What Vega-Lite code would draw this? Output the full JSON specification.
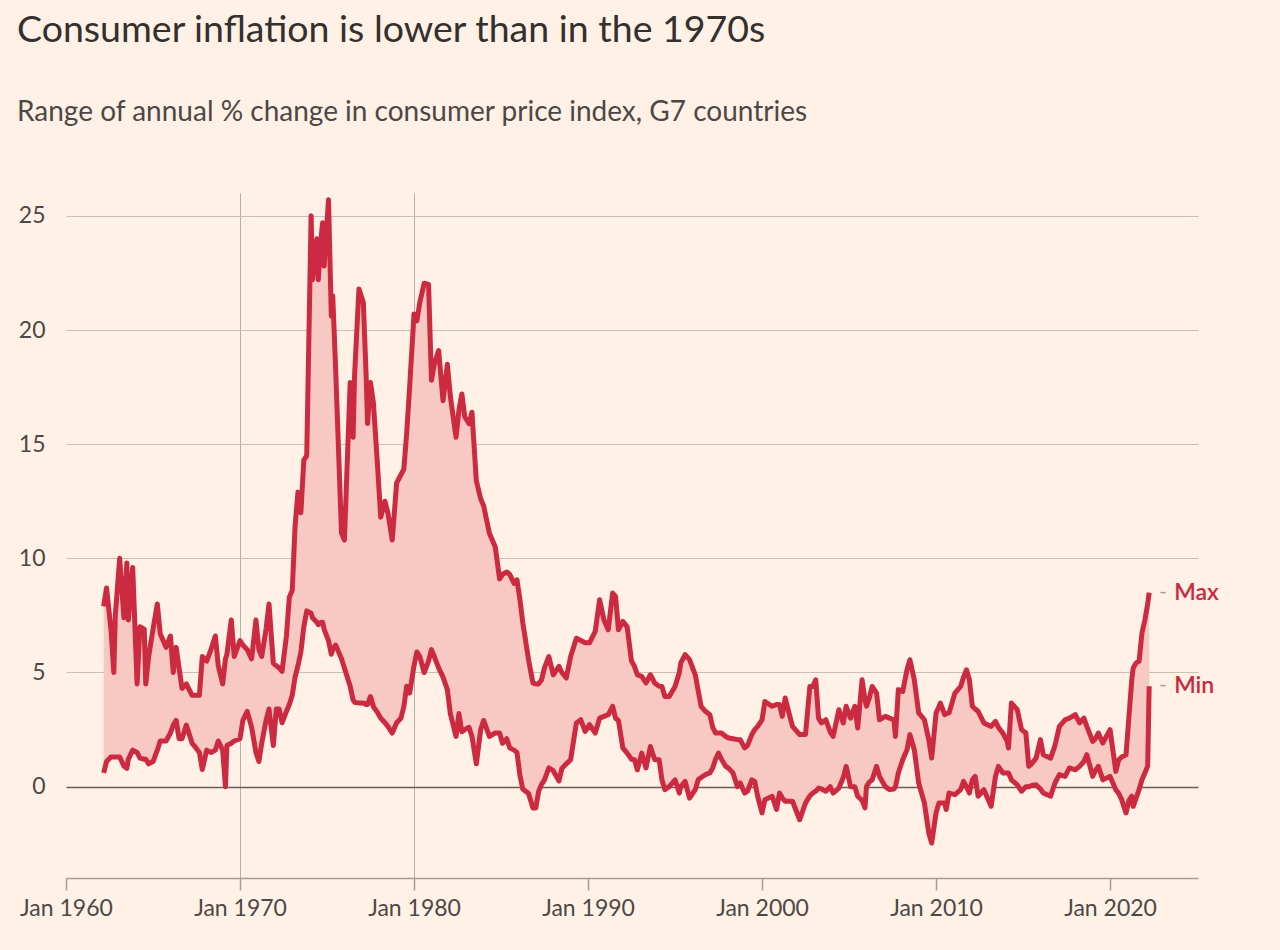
{
  "$schema": "https://vega.github.io/schema/vega-lite/v6.json",
  "width": 1132,
  "height": 685,
  "autosize": {"type": "none"},
  "padding": {"left": 66, "top": 193, "right": 82, "bottom": 72},
  "background": "#fff1e5",
  "title": {
    "text": "Consumer inflation is lower than in the 1970s",
    "subtitle": "Range of annual % change in consumer price index, G7 countries",
    "anchor": "start",
    "frame": "group",
    "dx": -49,
    "offset": 66,
    "font": "Lato",
    "fontSize": 37.5,
    "fontWeight": "normal",
    "color": "#33302e",
    "subtitleFont": "Lato",
    "subtitleFontSize": 28,
    "subtitleColor": "#4d4845",
    "subtitlePadding": 50
  },
  "config": {
    "view": {"stroke": null},
    "font": "Lato"
  },
  "data": {
    "values": [
      {"date": "1962-03-01", "Max": 7.9, "Min": 0.6},
      {"date": "1962-05-01", "Max": 8.7, "Min": 1.1},
      {"date": "1962-08-01", "Max": 6.9, "Min": 1.3},
      {"date": "1962-10-01", "Max": 5.0, "Min": 1.3},
      {"date": "1962-11-01", "Max": 7.5, "Min": 1.3},
      {"date": "1963-02-01", "Max": 10.0, "Min": 1.3},
      {"date": "1963-05-01", "Max": 7.4, "Min": 0.9},
      {"date": "1963-07-01", "Max": 9.8, "Min": 0.8},
      {"date": "1963-08-01", "Max": 7.3, "Min": 1.2},
      {"date": "1963-11-01", "Max": 9.6, "Min": 1.6},
      {"date": "1964-02-01", "Max": 4.5, "Min": 1.5},
      {"date": "1964-04-01", "Max": 7.0, "Min": 1.25},
      {"date": "1964-07-01", "Max": 6.9, "Min": 1.2},
      {"date": "1964-08-01", "Max": 4.5, "Min": 1.2},
      {"date": "1964-10-01", "Max": 5.7, "Min": 1.0},
      {"date": "1965-01-01", "Max": 6.9, "Min": 1.1},
      {"date": "1965-04-01", "Max": 8.0, "Min": 1.6},
      {"date": "1965-06-01", "Max": 6.7, "Min": 2.0},
      {"date": "1965-10-01", "Max": 6.1, "Min": 2.0},
      {"date": "1966-01-01", "Max": 6.6, "Min": 2.35},
      {"date": "1966-03-01", "Max": 5.0, "Min": 2.7},
      {"date": "1966-05-01", "Max": 6.1, "Min": 2.9},
      {"date": "1966-07-01", "Max": 5.2, "Min": 2.1},
      {"date": "1966-09-01", "Max": 4.3, "Min": 2.1},
      {"date": "1966-12-01", "Max": 4.5, "Min": 2.7},
      {"date": "1967-04-01", "Max": 4.0, "Min": 1.9},
      {"date": "1967-06-01", "Max": 4.0, "Min": 1.75},
      {"date": "1967-09-01", "Max": 4.0, "Min": 1.5},
      {"date": "1967-11-01", "Max": 5.7, "Min": 0.75},
      {"date": "1968-02-01", "Max": 5.5, "Min": 1.6},
      {"date": "1968-05-01", "Max": 6.0, "Min": 1.5},
      {"date": "1968-08-01", "Max": 6.6, "Min": 1.6},
      {"date": "1968-10-01", "Max": 5.3, "Min": 2.0},
      {"date": "1969-01-01", "Max": 4.5, "Min": 1.6},
      {"date": "1969-03-01", "Max": 5.6, "Min": 0.0},
      {"date": "1969-04-01", "Max": 5.8, "Min": 1.8},
      {"date": "1969-07-01", "Max": 7.3, "Min": 1.9},
      {"date": "1969-09-01", "Max": 5.7, "Min": 2.0},
      {"date": "1970-01-01", "Max": 6.4, "Min": 2.1},
      {"date": "1970-03-01", "Max": 6.2, "Min": 2.9},
      {"date": "1970-06-01", "Max": 6.0, "Min": 3.3},
      {"date": "1970-09-01", "Max": 5.6, "Min": 2.6},
      {"date": "1970-12-01", "Max": 7.3, "Min": 1.5},
      {"date": "1971-02-01", "Max": 6.0, "Min": 1.1},
      {"date": "1971-04-01", "Max": 5.7, "Min": 1.9},
      {"date": "1971-07-01", "Max": 6.9, "Min": 2.9},
      {"date": "1971-09-01", "Max": 8.0, "Min": 3.4},
      {"date": "1971-12-01", "Max": 5.4, "Min": 1.8},
      {"date": "1972-02-01", "Max": 5.3, "Min": 3.4},
      {"date": "1972-04-01", "Max": 5.2, "Min": 3.4},
      {"date": "1972-06-01", "Max": 5.05, "Min": 2.8},
      {"date": "1972-09-01", "Max": 6.6, "Min": 3.3},
      {"date": "1972-11-01", "Max": 8.3, "Min": 3.6},
      {"date": "1973-01-01", "Max": 8.6, "Min": 4.0},
      {"date": "1973-03-01", "Max": 11.4, "Min": 4.8},
      {"date": "1973-05-01", "Max": 12.9, "Min": 5.3},
      {"date": "1973-07-01", "Max": 12.0, "Min": 5.9},
      {"date": "1973-09-01", "Max": 14.3, "Min": 7.0},
      {"date": "1973-11-01", "Max": 14.5, "Min": 7.7},
      {"date": "1974-02-01", "Max": 25.0, "Min": 7.6},
      {"date": "1974-03-01", "Max": 22.2, "Min": 7.4},
      {"date": "1974-06-01", "Max": 24.0, "Min": 7.2},
      {"date": "1974-07-01", "Max": 22.2, "Min": 7.1},
      {"date": "1974-09-01", "Max": 24.1, "Min": 7.2},
      {"date": "1974-10-01", "Max": 24.7, "Min": 7.2},
      {"date": "1974-11-01", "Max": 22.8, "Min": 6.9},
      {"date": "1975-02-01", "Max": 25.7, "Min": 6.4},
      {"date": "1975-04-01", "Max": 20.6, "Min": 5.8},
      {"date": "1975-05-01", "Max": 21.5, "Min": 6.0},
      {"date": "1975-07-01", "Max": 18.3, "Min": 6.2},
      {"date": "1975-11-01", "Max": 11.1, "Min": 5.6},
      {"date": "1976-01-01", "Max": 10.8, "Min": 5.2},
      {"date": "1976-05-01", "Max": 17.7, "Min": 4.4},
      {"date": "1976-07-01", "Max": 15.3, "Min": 3.8},
      {"date": "1976-08-01", "Max": 18.0, "Min": 3.7},
      {"date": "1976-11-01", "Max": 21.8, "Min": 3.66},
      {"date": "1977-02-01", "Max": 21.2, "Min": 3.66},
      {"date": "1977-04-01", "Max": 18.0, "Min": 3.6},
      {"date": "1977-05-01", "Max": 15.9, "Min": 3.6},
      {"date": "1977-07-01", "Max": 17.7, "Min": 3.95},
      {"date": "1977-09-01", "Max": 16.8, "Min": 3.5},
      {"date": "1977-12-01", "Max": 13.9, "Min": 3.23},
      {"date": "1978-02-01", "Max": 11.8, "Min": 3.0},
      {"date": "1978-05-01", "Max": 12.5, "Min": 2.8},
      {"date": "1978-07-01", "Max": 12.0, "Min": 2.64},
      {"date": "1978-10-01", "Max": 10.8, "Min": 2.35},
      {"date": "1979-01-01", "Max": 13.3, "Min": 2.8},
      {"date": "1979-04-01", "Max": 13.66, "Min": 3.0},
      {"date": "1979-06-01", "Max": 13.9, "Min": 3.5},
      {"date": "1979-08-01", "Max": 15.5, "Min": 4.4},
      {"date": "1979-10-01", "Max": 17.5, "Min": 4.1},
      {"date": "1980-01-01", "Max": 20.7, "Min": 5.3},
      {"date": "1980-03-01", "Max": 20.4, "Min": 5.9},
      {"date": "1980-05-01", "Max": 21.2, "Min": 5.7},
      {"date": "1980-08-01", "Max": 22.05, "Min": 5.0},
      {"date": "1980-11-01", "Max": 22.0, "Min": 5.5},
      {"date": "1981-01-01", "Max": 17.8, "Min": 6.0},
      {"date": "1981-03-01", "Max": 18.5, "Min": 5.7},
      {"date": "1981-06-01", "Max": 19.1, "Min": 5.2},
      {"date": "1981-09-01", "Max": 16.9, "Min": 4.8},
      {"date": "1981-12-01", "Max": 18.5, "Min": 4.25},
      {"date": "1982-02-01", "Max": 17.1, "Min": 3.2},
      {"date": "1982-06-01", "Max": 15.3, "Min": 2.2},
      {"date": "1982-08-01", "Max": 16.5, "Min": 3.2},
      {"date": "1982-10-01", "Max": 17.2, "Min": 2.4},
      {"date": "1982-12-01", "Max": 16.2, "Min": 2.5},
      {"date": "1983-03-01", "Max": 15.9, "Min": 2.6},
      {"date": "1983-05-01", "Max": 16.4, "Min": 2.2},
      {"date": "1983-08-01", "Max": 13.4, "Min": 1.0},
      {"date": "1983-11-01", "Max": 12.6, "Min": 2.5},
      {"date": "1984-01-01", "Max": 12.3, "Min": 2.9},
      {"date": "1984-05-01", "Max": 11.1, "Min": 2.2},
      {"date": "1984-09-01", "Max": 10.5, "Min": 2.35},
      {"date": "1984-12-01", "Max": 9.1, "Min": 2.35},
      {"date": "1985-02-01", "Max": 9.3, "Min": 1.9},
      {"date": "1985-05-01", "Max": 9.4, "Min": 2.1},
      {"date": "1985-07-01", "Max": 9.3, "Min": 1.7},
      {"date": "1985-10-01", "Max": 8.9, "Min": 1.6},
      {"date": "1985-12-01", "Max": 9.06, "Min": 1.5},
      {"date": "1986-02-01", "Max": 8.2, "Min": 0.5},
      {"date": "1986-04-01", "Max": 7.2, "Min": -0.1},
      {"date": "1986-08-01", "Max": 5.56, "Min": -0.3},
      {"date": "1986-11-01", "Max": 4.54, "Min": -0.93},
      {"date": "1987-01-01", "Max": 4.5, "Min": -0.93},
      {"date": "1987-03-01", "Max": 4.5, "Min": -0.2},
      {"date": "1987-05-01", "Max": 4.68, "Min": 0.1},
      {"date": "1987-07-01", "Max": 5.2, "Min": 0.3},
      {"date": "1987-10-01", "Max": 5.7, "Min": 0.82},
      {"date": "1988-01-01", "Max": 4.9, "Min": 0.7},
      {"date": "1988-05-01", "Max": 5.27, "Min": 0.25},
      {"date": "1988-07-01", "Max": 5.0, "Min": 0.8},
      {"date": "1988-10-01", "Max": 4.76, "Min": 1.0},
      {"date": "1989-01-01", "Max": 5.7, "Min": 1.18},
      {"date": "1989-05-01", "Max": 6.5, "Min": 2.79},
      {"date": "1989-08-01", "Max": 6.4, "Min": 2.93},
      {"date": "1989-11-01", "Max": 6.3, "Min": 2.42},
      {"date": "1990-02-01", "Max": 6.3, "Min": 2.72},
      {"date": "1990-06-01", "Max": 6.8, "Min": 2.35},
      {"date": "1990-09-01", "Max": 8.19, "Min": 3.0},
      {"date": "1990-12-01", "Max": 7.3, "Min": 3.08},
      {"date": "1991-03-01", "Max": 6.87, "Min": 3.15},
      {"date": "1991-06-01", "Max": 8.48, "Min": 3.52},
      {"date": "1991-08-01", "Max": 8.33, "Min": 3.0},
      {"date": "1991-10-01", "Max": 6.87, "Min": 2.9},
      {"date": "1992-01-01", "Max": 7.24, "Min": 1.7},
      {"date": "1992-04-01", "Max": 7.0, "Min": 1.47},
      {"date": "1992-07-01", "Max": 5.5, "Min": 1.2},
      {"date": "1992-09-01", "Max": 5.27, "Min": 1.18},
      {"date": "1992-11-01", "Max": 4.9, "Min": 0.74},
      {"date": "1993-02-01", "Max": 4.83, "Min": 1.47},
      {"date": "1993-05-01", "Max": 4.54, "Min": 0.82},
      {"date": "1993-08-01", "Max": 4.9, "Min": 1.76},
      {"date": "1993-11-01", "Max": 4.54, "Min": 1.18},
      {"date": "1994-02-01", "Max": 4.4, "Min": 1.18},
      {"date": "1994-04-01", "Max": 4.39, "Min": 0.3},
      {"date": "1994-06-01", "Max": 3.95, "Min": -0.13},
      {"date": "1994-09-01", "Max": 3.95, "Min": 0.0},
      {"date": "1995-01-01", "Max": 4.39, "Min": 0.3},
      {"date": "1995-04-01", "Max": 5.0, "Min": -0.28},
      {"date": "1995-05-01", "Max": 5.42, "Min": 0.0},
      {"date": "1995-08-01", "Max": 5.78, "Min": 0.23},
      {"date": "1995-11-01", "Max": 5.56, "Min": -0.5},
      {"date": "1996-03-01", "Max": 4.9, "Min": -0.13},
      {"date": "1996-05-01", "Max": 4.2, "Min": 0.3},
      {"date": "1996-07-01", "Max": 3.52, "Min": 0.4},
      {"date": "1996-10-01", "Max": 3.3, "Min": 0.53},
      {"date": "1997-01-01", "Max": 3.15, "Min": 0.6},
      {"date": "1997-03-01", "Max": 2.6, "Min": 0.82},
      {"date": "1997-05-01", "Max": 2.35, "Min": 1.2},
      {"date": "1997-07-01", "Max": 2.35, "Min": 1.47},
      {"date": "1997-09-01", "Max": 2.35, "Min": 1.2},
      {"date": "1997-12-01", "Max": 2.2, "Min": 0.89},
      {"date": "1998-02-01", "Max": 2.13, "Min": 0.8},
      {"date": "1998-05-01", "Max": 2.1, "Min": 0.6},
      {"date": "1998-08-01", "Max": 2.06, "Min": 0.0},
      {"date": "1998-10-01", "Max": 2.06, "Min": 0.16},
      {"date": "1999-01-01", "Max": 1.7, "Min": -0.28},
      {"date": "1999-03-01", "Max": 1.8, "Min": -0.2},
      {"date": "1999-06-01", "Max": 2.28, "Min": 0.3},
      {"date": "1999-08-01", "Max": 2.5, "Min": 0.23},
      {"date": "1999-10-01", "Max": 2.64, "Min": -0.42},
      {"date": "2000-01-01", "Max": 2.93, "Min": -1.15},
      {"date": "2000-03-01", "Max": 3.73, "Min": -0.57},
      {"date": "2000-08-01", "Max": 3.52, "Min": -0.42},
      {"date": "2000-11-01", "Max": 3.6, "Min": -1.0},
      {"date": "2001-01-01", "Max": 3.6, "Min": -0.28},
      {"date": "2001-03-01", "Max": 3.08, "Min": -0.5},
      {"date": "2001-05-01", "Max": 3.88, "Min": -0.64},
      {"date": "2001-10-01", "Max": 2.64, "Min": -0.64},
      {"date": "2002-03-01", "Max": 2.28, "Min": -1.45},
      {"date": "2002-07-01", "Max": 2.28, "Min": -0.72},
      {"date": "2002-10-01", "Max": 4.39, "Min": -0.4},
      {"date": "2002-12-01", "Max": 4.39, "Min": -0.28},
      {"date": "2003-02-01", "Max": 4.68, "Min": -0.2},
      {"date": "2003-04-01", "Max": 3.0, "Min": -0.06},
      {"date": "2003-06-01", "Max": 2.79, "Min": -0.1},
      {"date": "2003-09-01", "Max": 2.93, "Min": -0.2},
      {"date": "2003-12-01", "Max": 2.4, "Min": 0.0},
      {"date": "2004-02-01", "Max": 2.2, "Min": -0.28},
      {"date": "2004-06-01", "Max": 3.37, "Min": -0.06},
      {"date": "2004-09-01", "Max": 2.79, "Min": 0.4},
      {"date": "2004-11-01", "Max": 3.52, "Min": 0.89},
      {"date": "2005-02-01", "Max": 3.0, "Min": 0.0},
      {"date": "2005-05-01", "Max": 3.52, "Min": 0.0},
      {"date": "2005-07-01", "Max": 2.57, "Min": -0.42},
      {"date": "2005-10-01", "Max": 4.68, "Min": -0.6},
      {"date": "2005-12-01", "Max": 3.8, "Min": -0.93},
      {"date": "2006-01-01", "Max": 3.52, "Min": 0.0},
      {"date": "2006-03-01", "Max": 3.88, "Min": 0.2},
      {"date": "2006-05-01", "Max": 4.39, "Min": 0.3},
      {"date": "2006-08-01", "Max": 4.1, "Min": 0.89},
      {"date": "2006-10-01", "Max": 2.93, "Min": 0.45},
      {"date": "2007-02-01", "Max": 3.08, "Min": 0.0},
      {"date": "2007-05-01", "Max": 3.0, "Min": -0.13},
      {"date": "2007-08-01", "Max": 2.93, "Min": -0.1},
      {"date": "2007-09-01", "Max": 2.2, "Min": 0.0},
      {"date": "2007-11-01", "Max": 4.25, "Min": 0.6},
      {"date": "2008-02-01", "Max": 4.17, "Min": 1.18},
      {"date": "2008-05-01", "Max": 5.12, "Min": 1.62},
      {"date": "2008-07-01", "Max": 5.56, "Min": 2.28},
      {"date": "2008-10-01", "Max": 4.68, "Min": 1.62},
      {"date": "2009-01-01", "Max": 3.23, "Min": 0.16},
      {"date": "2009-05-01", "Max": 2.93, "Min": -0.72},
      {"date": "2009-08-01", "Max": 2.06, "Min": -2.03},
      {"date": "2009-10-01", "Max": 1.25, "Min": -2.47},
      {"date": "2010-01-01", "Max": 3.23, "Min": -1.15},
      {"date": "2010-03-01", "Max": 3.5, "Min": -0.72},
      {"date": "2010-04-01", "Max": 3.66, "Min": -0.72},
      {"date": "2010-07-01", "Max": 3.15, "Min": -0.72},
      {"date": "2010-08-01", "Max": 3.2, "Min": -1.0},
      {"date": "2010-10-01", "Max": 3.23, "Min": -0.28},
      {"date": "2011-02-01", "Max": 4.1, "Min": -0.35},
      {"date": "2011-06-01", "Max": 4.39, "Min": -0.13},
      {"date": "2011-08-01", "Max": 4.8, "Min": 0.23},
      {"date": "2011-10-01", "Max": 5.12, "Min": 0.0},
      {"date": "2011-12-01", "Max": 4.68, "Min": -0.28},
      {"date": "2012-02-01", "Max": 3.52, "Min": 0.3},
      {"date": "2012-04-01", "Max": 3.4, "Min": 0.45},
      {"date": "2012-06-01", "Max": 3.3, "Min": -0.42},
      {"date": "2012-10-01", "Max": 2.79, "Min": -0.13},
      {"date": "2013-03-01", "Max": 2.64, "Min": -0.86},
      {"date": "2013-06-01", "Max": 2.86, "Min": 0.45},
      {"date": "2013-08-01", "Max": 2.6, "Min": 0.89},
      {"date": "2013-11-01", "Max": 2.35, "Min": 0.6},
      {"date": "2014-02-01", "Max": 2.0, "Min": 0.6},
      {"date": "2014-03-01", "Max": 1.69, "Min": 0.6},
      {"date": "2014-05-01", "Max": 3.66, "Min": 0.3},
      {"date": "2014-09-01", "Max": 3.37, "Min": 0.08},
      {"date": "2014-12-01", "Max": 2.5, "Min": -0.2},
      {"date": "2015-03-01", "Max": 2.35, "Min": 0.0},
      {"date": "2015-05-01", "Max": 0.89, "Min": 0.0},
      {"date": "2015-07-01", "Max": 1.0, "Min": 0.05},
      {"date": "2015-10-01", "Max": 1.25, "Min": 0.08},
      {"date": "2016-01-01", "Max": 2.06, "Min": -0.1},
      {"date": "2016-03-01", "Max": 1.4, "Min": -0.28},
      {"date": "2016-08-01", "Max": 1.25, "Min": -0.42},
      {"date": "2016-11-01", "Max": 1.8, "Min": 0.16},
      {"date": "2017-02-01", "Max": 2.64, "Min": 0.53},
      {"date": "2017-06-01", "Max": 2.93, "Min": 0.45},
      {"date": "2017-09-01", "Max": 3.0, "Min": 0.82},
      {"date": "2018-01-01", "Max": 3.15, "Min": 0.74},
      {"date": "2018-04-01", "Max": 2.79, "Min": 0.89},
      {"date": "2018-07-01", "Max": 3.0, "Min": 1.1},
      {"date": "2018-09-01", "Max": 2.64, "Min": 1.4},
      {"date": "2019-01-01", "Max": 1.98, "Min": 0.45},
      {"date": "2019-03-01", "Max": 2.1, "Min": 0.7},
      {"date": "2019-05-01", "Max": 2.35, "Min": 0.89},
      {"date": "2019-08-01", "Max": 1.91, "Min": 0.3},
      {"date": "2020-01-01", "Max": 2.5, "Min": 0.45},
      {"date": "2020-05-01", "Max": 0.67, "Min": -0.13},
      {"date": "2020-07-01", "Max": 1.18, "Min": -0.3},
      {"date": "2020-09-01", "Max": 1.3, "Min": -0.57},
      {"date": "2020-12-01", "Max": 1.4, "Min": -1.15},
      {"date": "2021-02-01", "Max": 3.08, "Min": -0.6},
      {"date": "2021-04-01", "Max": 4.68, "Min": -0.42},
      {"date": "2021-05-01", "Max": 5.2, "Min": -0.86},
      {"date": "2021-07-01", "Max": 5.42, "Min": -0.5},
      {"date": "2021-09-01", "Max": 5.49, "Min": -0.13},
      {"date": "2021-11-01", "Max": 6.73, "Min": 0.3},
      {"date": "2022-01-01", "Max": 7.3, "Min": 0.6},
      {"date": "2022-03-01", "Max": 8.0, "Min": 0.9},
      {"date": "2022-04-01", "Max": 8.5, "Min": 4.4}
    ]
  },
  "encoding": {
    "x": {
      "field": "date",
      "type": "temporal",
      "scale": {
        "type": "utc",
        "domain": [
          {"year": 1960, "month": 1, "date": 1, "utc": true},
          {"year": 2025, "month": 1, "date": 20, "utc": true}
        ]
      },
      "axis": {
        "title": null,
        "format": "%b %Y",
        "values": [
          {"year": 1960, "month": 1, "date": 1, "utc": true},
          {"year": 1970, "month": 1, "date": 1, "utc": true},
          {"year": 1980, "month": 1, "date": 1, "utc": true},
          {"year": 1990, "month": 1, "date": 1, "utc": true},
          {"year": 2000, "month": 1, "date": 1, "utc": true},
          {"year": 2010, "month": 1, "date": 1, "utc": true},
          {"year": 2020, "month": 1, "date": 1, "utc": true}
        ],
        "labelFont": "Lato",
        "labelFontSize": 23,
        "labelColor": "#4d4845",
        "labelPadding": 7,
        "labelFlush": false,
        "labelOverlap": false,
        "domainColor": "#a39d95",
        "domainWidth": 1.5,
        "tickColor": "#a39d95",
        "tickWidth": 1.5,
        "tickSize": 12,
        "grid": true,
        "gridColor": "#b8b0a6",
        "gridWidth": 1,
        "gridOpacity": {
          "condition": {"test": "utcyear(datum.value) == 1970 || utcyear(datum.value) == 1980", "value": 1},
          "value": 0
        }
      }
    }
  },
  "layer": [
    {
      "mark": {"type": "area", "color": "#f7c9c2", "opacity": 1},
      "encoding": {
        "y": {
          "field": "Max",
          "type": "quantitative",
          "scale": {"domain": [-4, 26], "nice": false, "zero": false},
          "axis": {
            "title": null,
            "values": [0, 5, 10, 15, 20, 25],
            "ticks": false,
            "domain": false,
            "labelFont": "Lato",
            "labelFontSize": 23,
            "labelColor": "#4d4845",
            "labelPadding": 21,
            "gridColor": {
              "condition": {"test": "datum.value === 0", "value": "#66605c"},
              "value": "#c9c0b5"
            },
            "gridWidth": {
              "condition": {"test": "datum.value === 0", "value": 1.6},
              "value": 1.2
            }
          }
        },
        "y2": {"field": "Min"}
      }
    },
    {
      "transform": [{"fold": ["Max", "Min"], "as": ["series", "value"]}],
      "mark": {"type": "line", "color": "#cc2a40", "strokeWidth": 5, "strokeJoin": "round", "strokeCap": "butt"},
      "encoding": {
        "y": {"field": "value", "type": "quantitative"},
        "detail": {"field": "series"}
      }
    },
    {
      "transform": [
        {"filter": "utcyear(datum.date) == 2022 && utcmonth(datum.date) == 3"},
        {"fold": ["Max", "Min"], "as": ["series", "value"]}
      ],
      "mark": {"type": "text", "align": "left", "baseline": "middle", "dx": 10, "dy": -1, "font": "Lato", "fontSize": 20, "color": "#a39d95"},
      "encoding": {
        "y": {"field": "value", "type": "quantitative"},
        "text": {"value": "-"}
      }
    },
    {
      "transform": [
        {"filter": "utcyear(datum.date) == 2022 && utcmonth(datum.date) == 3"},
        {"fold": ["Max", "Min"], "as": ["series", "value"]}
      ],
      "mark": {"type": "text", "align": "left", "baseline": "middle", "dx": 25, "font": "Lato", "fontSize": 23, "fontWeight": 600, "color": "#c8293f"},
      "encoding": {
        "y": {"field": "value", "type": "quantitative"},
        "text": {"field": "series"}
      }
    }
  ]
}
